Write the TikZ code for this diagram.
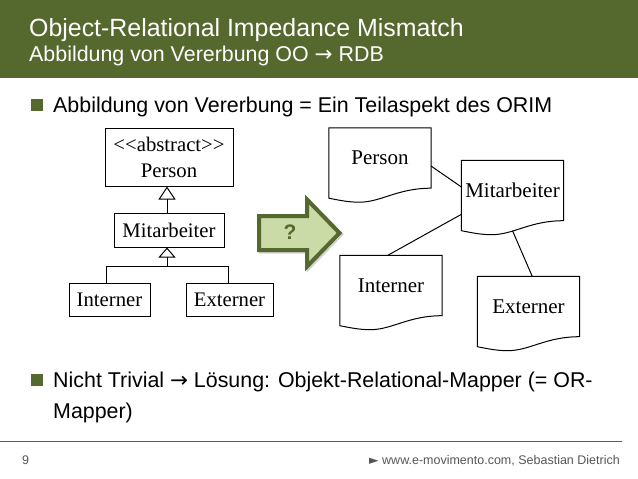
\documentclass[tikz,border=0pt]{standalone}
\usepackage{fontspec}
\setmainfont{Liberation Sans}
\newfontfamily\serifbox{Liberation Serif}
\newfontfamily\arrowfont{DejaVu Sans}
\usetikzlibrary{calc}
\usetikzlibrary{arrows.meta}

\definecolor{olivebar}{HTML}{55682E}
\definecolor{olivefill}{HTML}{CADBA8}
\definecolor{footgray}{HTML}{555555}

\tikzset{
  classbox/.style={draw=black, line width=1pt, align=center, inner sep=0pt, font=\serifbox\fontsize{20.7}{26}\selectfont},
  docbox/.style={inner sep=0pt, minimum width=102pt, minimum height=60pt, font=\serifbox\fontsize{21}{25}\selectfont},
  link/.style={black, line width=1pt},
  inherit/.style={black, line width=1pt, -{Triangle[open, fill=white, length=#1, width=17pt]}},
  slidetext/.style={anchor=base west, inner sep=0pt, font=\fontsize{21.4}{25}\selectfont},
}
\newcommand{\thickarrow}{{\arrowfont\symbol{"2192}}}
\newcommand{\mapperarrow}{(259,216) -- (307,216) -- (307,199.5) -- (339.5,233) -- (307,266.5) -- (307,250) -- (259,250) -- cycle}

\begin{document}
\begin{tikzpicture}[x=1pt, y=-1pt]
\useasboundingbox (0,0) rectangle (638,479);
\fill[olivebar] (0,0) rectangle (638,78);
\node[slidetext, white, font=\fontsize{24.9}{29}\selectfont] (title) at (29,36) {Object-Relational Impedance Mismatch};
\node[slidetext, white] (subtitle) at (29,61) {Abbildung von Vererbung OO \thickarrow{} RDB};

% bullets
\fill[olivebar] (31,99) rectangle (43,111);
\fill[olivebar] (31,374) rectangle (43,386);
\node[slidetext] (firstline) at (53,112) {Abbildung von Vererbung = Ein Teilaspekt des ORIM};
\node[slidetext] (secondline) at (53,387) {Nicht Trivial \thickarrow{} Lösung: Objekt-Relational-Mapper (= OR-};
\node[slidetext] (thirdline) at (53,418) {Mapper)};

% class tree
\node[classbox, minimum width=128pt, minimum height=58pt] (person) at (169,157) {\raisebox{-1pt}{<<abstract>>}\\\raisebox{-1pt}{Person}};
\node[classbox, minimum width=110pt, minimum height=34pt] (mitarbeiter) at (169,230) {Mitarbeiter};
\node[classbox, minimum width=81pt, minimum height=33pt] (interner) at (109.5,299.5) {Interner};
\node[classbox, minimum width=87pt, minimum height=33pt] (externer) at (229.5,299.5) {Externer};
\coordinate (fork) at (167,266.5);
\coordinate (forkleft) at ([xshift=-3.5pt]interner.north);
\coordinate (forkright) at ([xshift=-1.5pt]externer.north);
\draw[inherit=13pt] ([xshift=-2pt]mitarbeiter.north) -- ([xshift=-2pt]person.south);
\draw[inherit=10pt] (fork) -- ([xshift=-2pt]mitarbeiter.south);
\draw[link] (forkleft) -- (forkleft |- fork) -- (forkright |- fork) -- (forkright);

% arrow
\draw[gray!35, line width=4pt, shift={(1.5,1.5)}] \mapperarrow;
\draw[olivebar, fill=olivefill, line width=4pt, line join=miter] \mapperarrow;
\node[olivebar, font=\bfseries\fontsize{21}{25}\selectfont, inner sep=0pt] (question) at (290,232) {?};

% documents
\node[docbox] (docperson) at (380,158) {Person};
\node[docbox] (docmitarbeiter) at (512.5,190.5) {Mitarbeiter};
\node[docbox] (docinterner) at (391,285.5) {Interner};
\node[docbox] (docexterner) at (528.5,306.5) {Externer};
\foreach \n in {docperson,docmitarbeiter,docinterner,docexterner}
  \draw[link] (\n.south east) .. controls ($(\n.south east)+(-34,0)$) and ($(\n.south east)+(-50,14)$) .. ($(\n.south east)+(-72,14)$) .. controls ($(\n.south east)+(-83,14)$) and ($(\n.south east)+(-92,12)$) .. ($(\n.south west)+(0,10)$) -- (\n.north west) -- (\n.north east) -- cycle;
\draw[link] (docperson.-9) -- (docmitarbeiter.176);
\draw[link] (docmitarbeiter.205) -- (docinterner.96);
\draw[link] ([yshift=-10pt]docmitarbeiter.south) -- (docexterner.83);

% footer
\draw[olivebar, line width=.8pt] (0,441) -- (622,441);
\node[slidetext, footgray, font=\fontsize{12.5}{15}\selectfont] (pagenumber) at (22,464) {9};
\node[anchor=base east, inner sep=0pt, footgray, font=\fontsize{12.5}{15}\selectfont] (footer) at (620,464) {{\arrowfont\symbol{"25BA}} www.e-movimento.com, Sebastian Dietrich};
\end{tikzpicture}
\end{document}
